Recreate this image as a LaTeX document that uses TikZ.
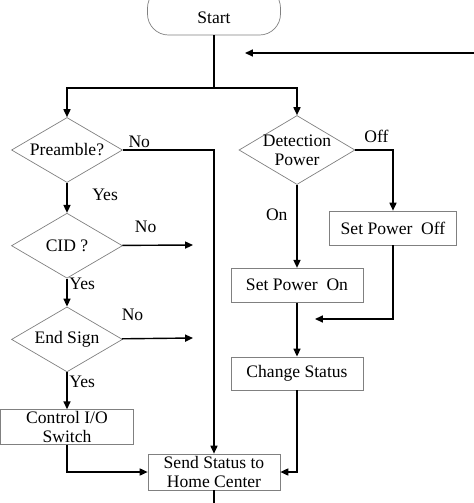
\documentclass[tikz,border=0pt]{standalone}
\usepackage{fontspec}
\setmainfont{Liberation Serif}
\usetikzlibrary{positioning,shapes.geometric,arrows.meta}

\begin{document}
\begin{tikzpicture}[>={Triangle[length=4.5pt,width=4pt]},line width=0.8pt,
	every node/.style={font=\fontsize{10}{11}\selectfont},
	box/.style={shape=rectangle,draw=gray,thin,minimum width=2.64cm,minimum height=0.68cm,align=center,inner sep=0pt},
	dec/.style={shape=diamond,draw=gray,thin,aspect=1.7,minimum width=2.22cm,minimum height=1.3cm,inner sep=0pt,align=center},
	lbl/.style={inner sep=1pt}]
	\useasboundingbox (0,0) rectangle (9.48,-10.06);
	% create the nodes
	\node (start) [box, rounded corners=0.42cm, minimum width=2.66cm, minimum height=0.96cm, text height=0.5cm, text depth=0pt] at (4.28,-0.22) {Start};
	\node (pre) [dec] at (1.34,-3.00) {Preamble?};
	\node (cid) [dec, below=0.6cm of pre] {CID ?};
	\node (endsign) [dec, below=0.56cm of cid] {End Sign};
	\node (ctrl) [box, below=0.74cm of endsign, minimum width=2.66cm, minimum height=0.70cm] {Control I/O\\Switch};
	\node (send) [box, minimum height=0.72cm] at (4.28,-9.44) {Send Status to\\Home Center};
	
	\node (det) [dec, minimum width=2.32cm, minimum height=1.38cm, aspect=1.68, inner sep=-1.5pt] at (5.94,-3.00) {Detection\\Power};
	\node (off) [box, minimum width=2.54cm] at (7.86,-4.56) {Set Power~~Off};
	\node (on) [box, below=1.66cm of det] {Set Power~~On};
	\node (chg) [box, below=1.08cm of on, minimum height=0.66cm] {Change Status};
	
	% free ends
	\coordinate (split) at (4.28,-1.76);
	\coordinate (back1) at (9.48,-1.06);
	\coordinate (back2) at (4.90,-1.06);
	\coordinate (cidno) at (3.86,-4.90);
	\coordinate (endno) at (3.86,-6.76);
	\coordinate (offend) at (6.30,-6.38);
	\coordinate (exit) at (4.28,-10.10);
	
	% connect the nodes
	\draw (start) -- (split);
	\draw[->] (split) -| (pre);
	\draw[->] (split) -| (det);
	\draw[->] (back1) -- (back2);
	\draw[->] (pre) -| node[lbl, pos=0.09, above] {No} (send);
	\draw[->] (pre) -- node[lbl, pos=0.4, right=13pt] {Yes} (cid);
	\draw[->] (cid) -- node[lbl, pos=0.33, above=6pt] {No} (cidno);
	\draw[->] (cid) -- node[lbl, pos=0.2, right] {Yes} (endsign);
	\draw[->] (endsign) -- node[lbl, pos=0.15, above=9pt] {No} (endno);
	\draw[->] (endsign) -- node[lbl, pos=0.27, right] {Yes} (ctrl);
	\draw[->] (ctrl) |- (send);
	\draw (send) -- (exit);
	\draw[->] (det) -| node[lbl, pos=0.28, above=3pt] {Off} (off);
	\draw[->] (det) -- node[lbl, pos=0.36, left=4pt] {On} (on);
	\draw[->] (off) |- (offend);
	\draw[->] (on) -- (chg);
	\draw[->] (chg) |- (send);
\end{tikzpicture}
\end{document}
